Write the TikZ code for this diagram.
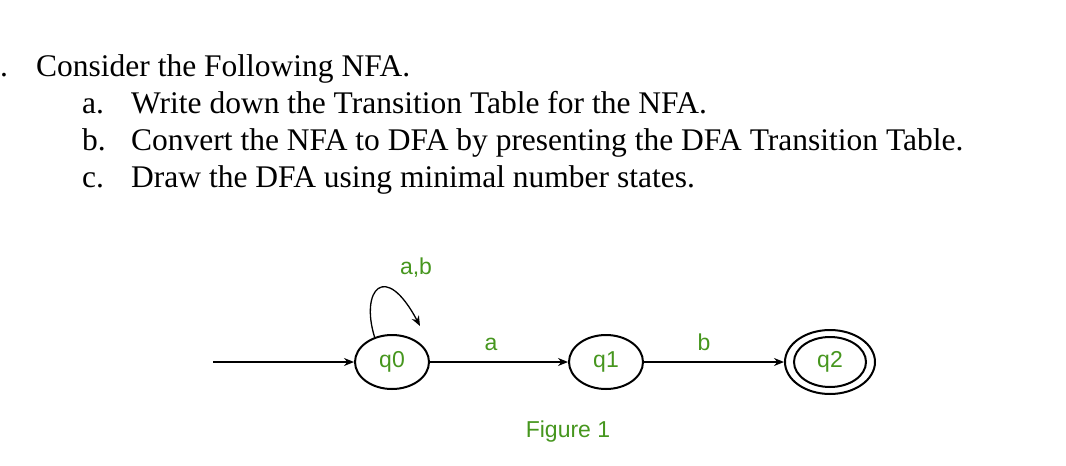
\documentclass[tikz,border=0pt]{standalone}
\usepackage{fontspec}
\setmainfont{Liberation Serif}
\newfontfamily\lab{Liberation Sans}
\usetikzlibrary{arrows.meta,shapes.geometric}
\definecolor{grn}{RGB}{70,150,30}
\begin{document}
\begin{tikzpicture}[x=1pt,y=-1pt,
  txt/.style={anchor=base west,inner sep=0,font=\fontsize{31.5}{32}\selectfont},
  st/.style={draw,ellipse,line width=2pt,minimum width=74pt,minimum height=54pt,inner sep=0,font=\lab\fontsize{23}{23}\selectfont,text=grn},
  lb/.style={font=\lab\fontsize{23}{23}\selectfont,text=grn,inner sep=0},
  ar/.style={-{Stealth[length=10pt,width=8pt]},line width=1.3pt}]
\useasboundingbox (0,0) rectangle (1066,466);
\node[txt] (d) at (0,76) {.};
\node[txt] (t0) at (36,76) {Consider the Following NFA.};
\node[txt] (la) at (82,113) {a.};
\node[txt] (ta) at (131,113) {Write down the Transition Table for the NFA.};
\node[txt] (lbb) at (82,150) {b.};
\node[txt] (tb) at (131,150) {Convert the NFA to DFA by presenting the DFA Transition Table.};
\node[txt] (lc) at (82,187) {c.};
\node[txt] (tc) at (131,187) {Draw the DFA using minimal number states.};
\node[st] (q0) at (392,362) {q0};
\node[st] (q1) at (606,362) {q1};
\node[st,minimum width=90pt,minimum height=64pt] (q2) at (830,362) {};
\node[st,minimum width=72pt,minimum height=50pt] (q2i) at (830,362) {q2};
\coordinate (s) at (213,362);
\draw[ar] (s) -- (q0);
\draw[ar] (q0) -- node[lb,above=11pt,xshift=-8pt]{a} (q1);
\draw[ar] (q1) -- node[lb,above=11pt,xshift=-10pt]{b} (q2);
\draw[ar] (q0.125) .. controls (360,290) and (385,260) .. (420,326);
\node[lb] (ab) at (416,268) {a,b};
\node[lb] (fig) at (568,432) {Figure 1};
\end{tikzpicture}
\end{document}
